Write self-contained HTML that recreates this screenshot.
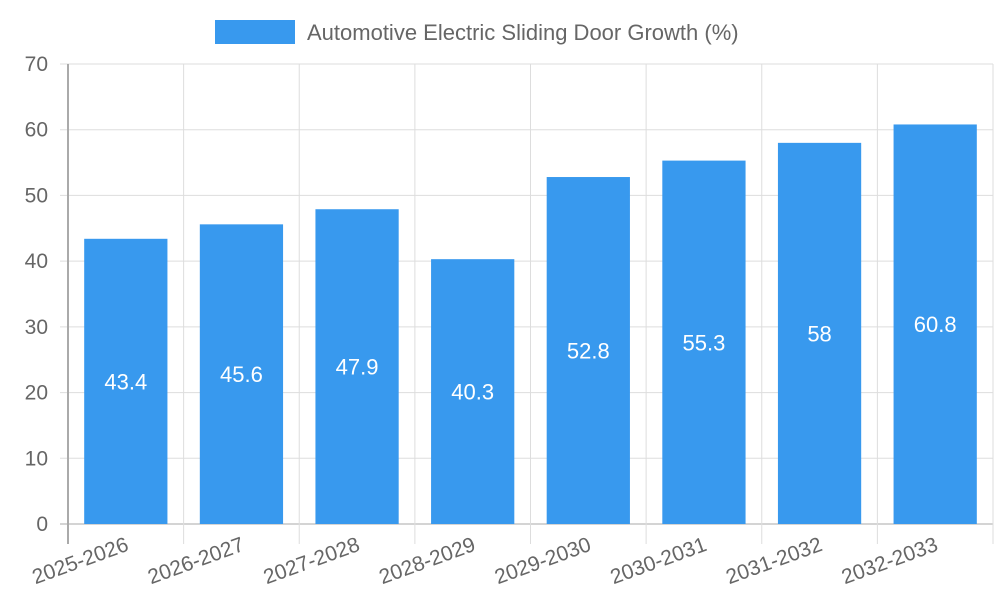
<!DOCTYPE html>
<html><head><meta charset="utf-8"><style>body{margin:0;background:#fff}svg{display:block;font-family:"Liberation Sans",sans-serif}</style></head>
<body>
<svg id="chart" width="1000" height="600" xmlns="http://www.w3.org/2000/svg">
<g id="legend">
<rect x="215" y="20" width="80" height="24" fill="#3899ee"/>
<text x="307" y="40" font-size="22" fill="#666">Automotive Electric Sliding Door Growth (%)</text>
</g>
<g id="grid"></g><g id="bars"></g><g id="labels"></g>
</svg>
<script>
const categories=["2025-2026","2026-2027","2027-2028","2028-2029","2029-2030","2030-2031","2031-2032","2032-2033"];
const values=[43.4,45.6,47.9,40.3,52.8,55.3,58,60.8];
const yTicks=[0,10,20,30,40,50,60,70];
const L=68,R=993,T=64,B=524,yMax=70;
const NS="http://www.w3.org/2000/svg";
const bw=(R-L)/categories.length;
const y=v=>B-(v/yMax)*(B-T);
const x=i=>L+i*bw;
function mk(p,tag,a,txt){const e=document.createElementNS(NS,tag);for(const k in a)e.setAttribute(k,a[k]);if(txt!==undefined)e.textContent=txt;p.appendChild(e);return e;}
const g=document.getElementById('grid'),bg=document.getElementById('bars'),lg=document.getElementById('labels');
yTicks.forEach(t=>{
 const ln=mk(g,'line',{x1:60,x2:R,y1:y(t),y2:y(t),stroke:t===0?'#aaa':'#ddd','stroke-width':1});
 
 
 const tx=mk(g,'text',{x:48,y:y(t)+7,'text-anchor':'end','font-size':21,fill:'#666'},t);
 
 
});
for(let i=0;i<=categories.length;i++){
 const ln=mk(g,'line',{x1:x(i),x2:x(i),y1:T,y2:B+20,stroke:i===0?'#aaa':'#ddd','stroke-width':i===0?2:1});
 
 
}
categories.forEach((c,i)=>{
 const v=values[i],cx=x(i)+bw/2,w=bw*0.72;
 const r=mk(bg,'rect',{x:cx-w/2,y:y(v),width:w,height:B-y(v),fill:'#3899ee'});
 
 
 const vt=mk(lg,'text',{x:cx,y:(y(v)+B)/2+8,'text-anchor':'middle','font-size':22,fill:'#fff'},v);
 
 
 const xt=mk(lg,'text',{x:cx+4,y:B+26,'text-anchor':'end','font-size':21,fill:'#666',transform:`rotate(-20 ${cx+4} ${B+26})`},c);
 
 
});
</script>
</body></html>
